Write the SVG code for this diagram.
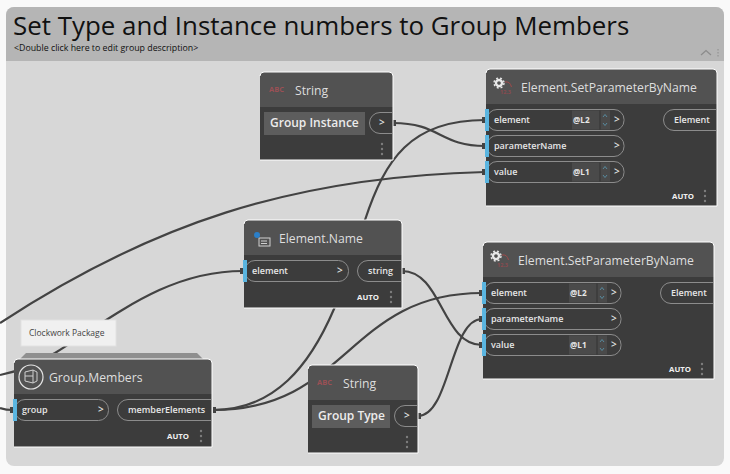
<svg xmlns="http://www.w3.org/2000/svg" width="730" height="474" viewBox="0 0 730 474">
<style>
text{font-family:"Open Sans","Noto Sans","Liberation Sans",sans-serif}
.hd{fill:#525252}
.bd{fill:#3c3c3c}
.edge{fill:none;stroke:#fff;stroke-width:1}
.nm{fill:#dedede;font-size:12.200px}
.pt{fill:#e6e6e6;font-size:9px;font-weight:600}
.pill{fill:none;stroke:#8c8c8c;stroke-width:1}
.blue{fill:#5ab5e0}
.auto{fill:#f0f0f0;font-size:7.800px;font-weight:700}
.dot{fill:#7d7d7d}
.lv{fill:#e6e6e6;font-size:8.200px;font-weight:700}
.lvb{fill:#4a4a4a}
.abc{fill:#9a5055;font-size:7.500px;font-weight:700}
.wire{fill:none;stroke:#434343;stroke-width:2.200;marker-end:url(#port)}
.out{marker-start:url(#portOut)}
.arr{fill:#e6e6e6;font-size:10px;font-weight:600}
.sp{fill:none;stroke:#5a9ab5;stroke-width:.8}
</style>
<defs>
<marker id="port" viewBox="0 0 3 6" refX="3" refY="3" markerWidth="3" markerHeight="6" markerUnits="userSpaceOnUse" orient="0"><rect width="3" height="6" fill="#434343"/></marker>
<marker id="portOut" viewBox="0 0 3 6" refX="0" refY="3" markerWidth="3" markerHeight="6" markerUnits="userSpaceOnUse" orient="0"><rect width="3" height="6" fill="#434343"/></marker>
<g id="dots"><circle cx="0" cy="-5" r="1.200" class="dot"/><circle cx="0" cy="0" r="1.200" class="dot"/><circle cx="0" cy="5" r="1.200" class="dot"/></g>
<g id="lace"><rect x="0" y="-9.500" width="38" height="19" class="lvb"/><path d="M28-9.500V9.500" stroke="#333" stroke-width="1"/><path d="M31-3l2-2.500 2 2.500M31 3l2 2.500 2-2.500" class="sp"/></g>
<g id="gear"><circle cx="0" cy="0" r="3" fill="none" stroke="#e8e8e8" stroke-width="2.400"/><circle cx="0" cy="0" r="5" fill="none" stroke="#e8e8e8" stroke-width="1.400" stroke-dasharray="2 2"/><path d="M6-1q5-1 6.500 5" fill="none" stroke="#a04a4a" stroke-width="1"/><text x="1" y="11" font-size="5.500" fill="#8a4b50" font-weight="700">12.3</text></g>
</defs>

<rect id="page" width="730" height="474" fill="#f9f9f9"/>
<g id="group-frame">
<rect x="6" y="7" width="718" height="459" rx="8" fill="#d7d7d7"/>
<path d="M6 61V15a8 8 0 0 1 8-8H716a8 8 0 0 1 8 8V61Z" fill="#b5b5b5"/>
<text x="13" y="35" font-size="25.900" fill="#111">Set Type and Instance numbers to Group Members</text>
<text x="14" y="51" font-size="8.800" fill="#111">&lt;Double click here to edit group description&gt;</text>
<path d="M701 55l5-4.500 5 4.500" fill="none" stroke="#8c8c8c" stroke-width="1.300"/>
<path d="M718 49v1.500M718 52v1.500M718 55v1.500" stroke="#8c8c8c" stroke-width="1"/>
</g>

<g id="connectors">
<path class="wire" d="M0 323C150 225 290 177 485 172"/>
<path class="wire" d="M0 375C20 371 35 365 55 353C120 312 170 271 243 271"/>
<path class="wire" d="M0 408C6 410 10 410 13 410"/>
<path class="wire out" d="M213 410C275 410 310 365 334 309C347 279 353 250 365 220C385 160 410 120 485 120"/>
<path class="wire out" d="M213 410C348 410 348 293 482 293"/>
<path class="wire out" d="M402 271C442 271 442 345 482 345"/>
<path class="wire out" d="M418 416C450 416 450 319 482 319"/>
<path class="wire out" d="M393 123C440 123 440 146 485 146"/>
</g>

<g id="node-string-instance">
<path class="bd" d="M260 107H393V160H260Z"/>
<path class="hd" d="M260 107V76a4 4 0 0 1 4-4H389a4 4 0 0 1 4 4V107Z"/>
<path class="edge" d="M260 160H393V76a4 4 0 0 0-4-4H264a4 4 0 0 0-4 4"/>
<text class="abc" x="269" y="92" textLength="15">ABC</text>
<text class="nm" x="295" y="95">String</text>
<rect x="264" y="112" width="101" height="23" fill="#5d5d5d"/>
<text x="270" y="127" font-size="12" fill="#ececec" font-weight="600">Group Instance</text>
<path class="pill" d="M392 112.500H380a10.500 10.500 0 0 0 0 21H392"/>
<text class="arr" x="379" y="126">&gt;</text>
<use href="#dots" x="382" y="149"/>
</g>

<g id="node-setparam-1">
<path class="bd" d="M486 104H717V206H486Z"/>
<path class="hd" d="M486 104V73a4 4 0 0 1 4-4H713a4 4 0 0 1 4 4V104Z"/>
<path class="edge" d="M486 206H717V73a4 4 0 0 0-4-4H490a4 4 0 0 0-4 4"/>
<use href="#gear" x="499" y="83"/>
<text class="nm" x="521" y="92">Element.SetParameterByName</text>
<rect class="pill" x="487" y="109.500" width="137" height="21" rx="10"/>
<rect class="pill" x="487" y="135.500" width="137" height="21" rx="10"/>
<rect class="pill" x="487" y="161.500" width="137" height="21" rx="10"/>
<rect class="blue" x="485" y="109" width="4" height="22"/><rect class="blue" x="485" y="135" width="4" height="22"/><rect class="blue" x="485" y="161" width="4" height="22"/>
<text class="pt" x="494" y="123">element</text><text class="pt" x="494" y="149">parameterName</text><text class="pt" x="494" y="175">value</text>
<use href="#lace" x="572" y="120"/><use href="#lace" x="572" y="172"/>
<text class="lv" x="573" y="122.500">@L2</text><text class="lv" x="573" y="174.500">@L1</text>
<text class="arr" x="614" y="123">&gt;</text><text class="arr" x="614" y="149">&gt;</text><text class="arr" x="614" y="175">&gt;</text>
<path class="pill" d="M716 109.500H674a10.500 10.500 0 0 0 0 21H716"/>
<text class="pt" x="674" y="123">Element</text>
<text class="auto" x="672" y="199">AUTO</text>
<use href="#dots" x="705" y="196"/>
</g>

<g id="node-element-name">
<path class="bd" d="M244 255H402V308H244Z"/>
<path class="hd" d="M244 255V224a4 4 0 0 1 4-4H398a4 4 0 0 1 4 4V255Z"/>
<path class="edge" d="M244 308H402V224a4 4 0 0 0-4-4H248a4 4 0 0 0-4 4"/>
<rect x="259" y="238" width="11" height="8" fill="none" stroke="#cfcfcf" stroke-width="1"/><path d="M261 241h6M261 243.500h6" stroke="#cfcfcf"/><circle cx="257" cy="235" r="3" fill="#2b7fc8"/>
<text class="nm" x="279" y="243">Element.Name</text>
<rect class="pill" x="245" y="260.500" width="103.500" height="21" rx="10"/>
<rect class="blue" x="243" y="260" width="4" height="22"/>
<text class="pt" x="252" y="274">element</text>
<text class="arr" x="337" y="274">&gt;</text>
<path class="pill" d="M401 260.500H368a10.500 10.500 0 0 0 0 21H401"/>
<text class="pt" x="368" y="274">string</text>
<text class="auto" x="357" y="300">AUTO</text>
<use href="#dots" x="391" y="297"/>
</g>

<g id="node-setparam-2">
<path class="bd" d="M483 277H714V379H483Z"/>
<path class="hd" d="M483 277V246a4 4 0 0 1 4-4H710a4 4 0 0 1 4 4V277Z"/>
<path class="edge" d="M483 379H714V246a4 4 0 0 0-4-4H487a4 4 0 0 0-4 4"/>
<use href="#gear" x="496" y="256"/>
<text class="nm" x="518" y="265">Element.SetParameterByName</text>
<rect class="pill" x="484" y="282.500" width="137" height="21" rx="10"/>
<rect class="pill" x="484" y="308.500" width="137" height="21" rx="10"/>
<rect class="pill" x="484" y="334.500" width="137" height="21" rx="10"/>
<rect class="blue" x="482" y="282" width="4" height="22"/><rect class="blue" x="482" y="308" width="4" height="22"/><rect class="blue" x="482" y="334" width="4" height="22"/>
<text class="pt" x="491" y="296">element</text><text class="pt" x="491" y="322">parameterName</text><text class="pt" x="491" y="348">value</text>
<use href="#lace" x="569" y="293"/><use href="#lace" x="569" y="345"/>
<text class="lv" x="570" y="295.500">@L2</text><text class="lv" x="570" y="347.500">@L1</text>
<text class="arr" x="611" y="296">&gt;</text><text class="arr" x="611" y="322">&gt;</text><text class="arr" x="611" y="348">&gt;</text>
<path class="pill" d="M713 282.500H671a10.500 10.500 0 0 0 0 21H713"/>
<text class="pt" x="671" y="296">Element</text>
<text class="auto" x="669" y="372">AUTO</text>
<use href="#dots" x="702" y="369"/>
</g>

<g id="node-group-members">
<path d="M20 359l6-6H197l6 6Z" fill="#8f8f8f"/>
<path class="bd" d="M14 394H212V447H14Z"/>
<path class="hd" d="M14 394V363a4 4 0 0 1 4-4H208a4 4 0 0 1 4 4V394Z"/>
<path class="edge" d="M14 447H212V363a4 4 0 0 0-4-4H18a4 4 0 0 0-4 4"/>
<circle cx="31" cy="377" r="12" fill="none" stroke="#e4e4e4" stroke-width="1.200"/>
<path d="M25 372l8-2 4 2v9l-4 2-8-2Z" fill="none" stroke="#cfcfcf" stroke-width="1"/><path d="M33 370v13M25 376h8" stroke="#cfcfcf" stroke-width="1"/>
<text class="nm" x="49" y="382">Group.Members</text>
<rect class="pill" x="15" y="399.500" width="93.500" height="21" rx="10"/>
<rect class="blue" x="13" y="399" width="4" height="22"/>
<text class="pt" x="22" y="413">group</text>
<text class="arr" x="98" y="413">&gt;</text>
<path class="pill" d="M211 399.500H128a10.500 10.500 0 0 0 0 21H211"/>
<text class="pt" x="128" y="413">memberElements</text>
<text class="auto" x="167" y="439">AUTO</text>
<use href="#dots" x="201" y="436"/>
</g>

<g id="node-string-type">
<path class="bd" d="M308 400H418V453H308Z"/>
<path class="hd" d="M308 400V369a4 4 0 0 1 4-4H414a4 4 0 0 1 4 4V400Z"/>
<path class="edge" d="M308 453H418V369a4 4 0 0 0-4-4H312a4 4 0 0 0-4 4"/>
<text class="abc" x="317" y="385" textLength="15">ABC</text>
<text class="nm" x="343" y="388">String</text>
<rect x="312" y="405" width="78" height="23" fill="#5d5d5d"/>
<text x="318" y="420" font-size="12" fill="#ececec" font-weight="600">Group Type</text>
<path class="pill" d="M417 405.500H405a10.500 10.500 0 0 0 0 21H417"/>
<text class="arr" x="404" y="419">&gt;</text>
<use href="#dots" x="407" y="442"/>
</g>

<g id="tooltip">
<rect x="21" y="320" width="95" height="26" fill="#f0f0f0" stroke="#e2e2e2" stroke-width="1"/>
<text x="29" y="336" font-size="8.500" fill="#444">Clockwork Package</text>
</g>
</svg>
